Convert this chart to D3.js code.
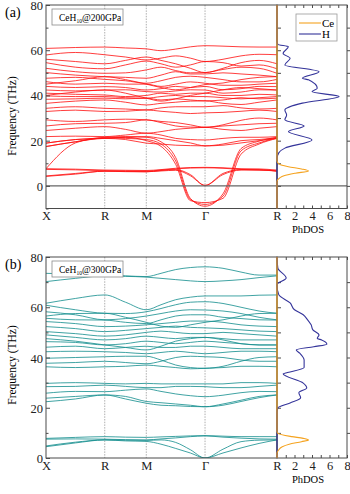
<!DOCTYPE html>
<html>
<head>
<meta charset="utf-8">
<script src="https://cdn.jsdelivr.net/npm/d3@7"></script>
<style>
  body { margin: 0; background: #fff; }
</style>
</head>
<body>
<div id="chart"></div>
<script>
// k-path X-R-M-Γ-R (simple cubic), distances in units of 2π/a
const kLabels = ["X", "R", "M", "Γ", "R"];
const kTicks = [0, 0.707, 1.207, 1.914, 2.780];
// k-points at which the band values below are read
const kPoints = [0, 0.354, 0.707, 0.957, 1.207, 1.384, 1.561, 1.737, 1.914, 2.130, 2.347, 2.564, 2.780];

const freqTicks = [0, 20, 40, 60, 80];
const dosTicks = [1, 2, 3, 4, 5, 6, 7, 8];

// CeH10 @ 200 GPa, frequencies in THz
const bands200 = [
  [60.8, 61.2, 61.4, 61.0, 60.6, 59.8, 60.5, 61.5, 62.0, 61.8, 61.5, 61.4, 61.4],
  [57.9, 59.0, 58.0, 57.0, 55.7, 56.5, 57.5, 56.5, 55.0, 56.0, 57.5, 58.2, 58.0],
  [56.0, 55.0, 54.0, 55.5, 57.0, 55.5, 54.0, 52.0, 50.1, 52.0, 54.5, 55.5, 54.0],
  [54.5, 52.5, 51.8, 53.5, 55.2, 54.0, 52.5, 53.5, 55.0, 54.5, 53.0, 53.5, 51.8],
  [52.0, 50.5, 49.8, 50.0, 51.3, 52.5, 51.0, 50.0, 50.1, 51.5, 52.5, 52.0, 49.8],
  [50.1, 49.0, 48.3, 48.0, 47.6, 49.0, 50.5, 49.5, 49.5, 50.0, 49.5, 49.0, 48.3],
  [47.6, 48.0, 47.1, 46.5, 45.4, 46.5, 48.0, 48.5, 48.0, 47.0, 46.0, 46.0, 47.1],
  [46.1, 45.0, 45.4, 45.0, 45.0, 44.0, 45.0, 46.0, 45.4, 44.5, 44.5, 45.0, 45.4],
  [45.0, 46.5, 48.3, 47.0, 45.0, 43.5, 42.5, 43.5, 44.8, 45.5, 47.0, 48.0, 48.3],
  [44.0, 43.5, 43.9, 43.5, 42.4, 43.0, 44.0, 43.5, 44.0, 42.5, 43.0, 44.0, 43.9],
  [42.4, 42.0, 42.4, 42.5, 41.7, 41.5, 42.0, 42.5, 42.4, 41.0, 41.5, 42.5, 42.4],
  [41.0, 40.5, 40.2, 39.5, 40.0, 41.0, 40.5, 41.0, 41.0, 40.0, 40.0, 40.5, 40.2],
  [40.0, 41.5, 42.4, 41.0, 38.8, 37.5, 38.5, 40.0, 41.0, 42.5, 43.5, 43.0, 42.4],
  [39.8, 39.5, 39.5, 39.0, 38.8, 39.5, 40.0, 39.5, 39.5, 39.0, 38.5, 39.0, 39.5],
  [38.3, 38.5, 38.8, 38.5, 38.8, 38.0, 38.5, 38.0, 37.6, 38.0, 39.0, 38.5, 38.8],
  [36.5, 37.5, 38.0, 37.0, 35.8, 36.5, 37.0, 37.5, 37.6, 36.5, 36.0, 37.0, 38.0],
  [34.3, 35.0, 34.3, 34.0, 33.6, 34.5, 35.0, 35.0, 35.0, 35.5, 34.5, 34.0, 34.3],
  [32.9, 33.5, 32.9, 33.0, 33.6, 33.0, 32.5, 32.0, 32.3, 32.5, 33.0, 33.5, 32.9],
  [29.2, 28.5, 29.2, 29.5, 29.2, 28.5, 28.0, 27.0, 25.9, 27.0, 29.0, 30.0, 29.2],
  [26.5, 27.5, 27.7, 28.0, 29.2, 28.0, 26.5, 26.0, 25.9, 26.5, 27.0, 27.5, 27.7],
  [24.5, 25.5, 26.2, 25.0, 23.3, 24.0, 25.0, 25.5, 25.9, 25.0, 24.5, 25.5, 26.2],
  [21.8, 22.0, 21.8, 22.5, 23.3, 22.5, 21.0, 20.5, 20.3, 21.0, 21.5, 21.5, 21.8],
  [18.9, 20.5, 21.2, 21.5, 21.8, 21.0, 20.0, 19.0, 17.7, 18.5, 20.0, 20.5, 21.2],
  [17.4, 19.5, 21.0, 20.5, 18.9, 18.5, 18.0, 17.8, 17.7, 18.0, 19.0, 20.0, 21.0],
  // soft modes, imaginary around Γ
  [7.6, 19.0, 21.5, 21.8, 21.5, 19.5, 12.5, -5.5, -9.0, -3.5, 16.5, 19.8, 21.5],
  [17.4, 19.5, 21.2, 21.0, 20.5, 18.5, 11.0, -6.0, -8.2, -4.5, 15.5, 19.0, 21.2],
  [18.9, 20.5, 21.0, 21.5, 20.0, 17.5, 9.5, -6.5, -7.4, -5.5, 14.0, 18.5, 21.0],
  // low Ce-like modes
  [7.6, 7.4, 7.0, 6.9, 6.8, 7.2, 7.8, 8.1, 8.2, 8.0, 7.6, 7.5, 7.0],
  [7.3, 7.1, 6.7, 6.6, 6.5, 7.0, 7.5, 7.9, 8.0, 7.8, 7.3, 7.0, 6.7],
  [4.2, 5.2, 6.5, 6.3, 6.2, 6.8, 7.2, 5.0, 0.2, 5.5, 7.2, 7.2, 6.5],
  [4.4, 5.5, 6.5, 6.4, 6.3, 6.6, 6.9, 4.5, 0.2, 5.0, 7.0, 7.0, 6.5]
];

// CeH10 @ 300 GPa
const bands300 = [
  [73.5, 73.2, 72.8, 72.5, 72.2, 73.5, 75.0, 75.8, 76.1, 75.5, 74.0, 72.8, 72.8],
  [70.2, 71.5, 72.5, 72.3, 72.0, 71.5, 71.0, 70.5, 70.2, 70.5, 71.0, 71.8, 72.5],
  [61.6, 63.5, 64.9, 62.0, 59.0, 61.0, 63.0, 64.0, 64.5, 64.5, 64.5, 64.8, 64.9],
  [60.8, 59.0, 57.6, 57.5, 58.2, 59.5, 61.0, 62.0, 62.2, 61.5, 60.0, 58.5, 57.6],
  [58.2, 57.0, 55.0, 55.5, 56.5, 57.5, 58.5, 59.0, 58.9, 58.5, 57.5, 56.0, 55.0],
  [56.5, 57.5, 57.6, 56.0, 54.0, 52.5, 52.0, 53.0, 54.0, 55.0, 56.5, 57.5, 57.6],
  [55.6, 55.0, 54.9, 54.0, 53.5, 55.0, 56.5, 57.0, 57.0, 56.0, 55.5, 55.0, 54.9],
  [54.3, 53.5, 52.3, 52.5, 53.0, 53.5, 54.0, 54.5, 54.5, 54.0, 53.0, 52.5, 52.3],
  [52.3, 51.5, 50.3, 50.8, 51.5, 52.0, 52.5, 52.0, 51.8, 51.5, 51.0, 50.5, 50.3],
  [50.3, 49.5, 48.5, 49.0, 50.0, 50.5, 50.0, 49.5, 49.5, 50.0, 49.5, 49.0, 48.5],
  [49.0, 48.0, 47.0, 47.5, 48.5, 48.0, 47.5, 48.0, 48.0, 47.5, 47.0, 47.0, 47.0],
  [47.5, 46.5, 45.0, 44.0, 43.0, 44.5, 46.5, 47.5, 48.0, 47.0, 45.5, 45.0, 45.0],
  [46.3, 46.0, 45.0, 45.5, 46.5, 46.0, 45.5, 46.0, 46.5, 46.0, 45.5, 45.0, 45.0],
  [44.1, 44.5, 43.5, 44.0, 44.5, 44.0, 44.0, 44.5, 44.5, 44.0, 43.5, 43.5, 43.5],
  [42.3, 42.5, 42.3, 42.0, 41.5, 42.0, 42.5, 42.0, 41.5, 42.0, 42.5, 42.5, 42.3],
  [39.7, 40.0, 40.3, 40.5, 40.5, 39.0, 37.0, 36.0, 35.7, 36.5, 38.5, 40.0, 40.3],
  [37.7, 38.0, 38.5, 38.0, 37.5, 38.5, 40.0, 40.5, 40.3, 40.0, 39.0, 38.5, 38.5],
  [36.3, 36.0, 36.3, 36.5, 37.0, 36.5, 36.0, 35.5, 35.7, 36.0, 36.5, 36.5, 36.3],
  [29.7, 30.0, 29.7, 29.5, 29.7, 29.5, 29.5, 29.5, 29.5, 29.5, 30.0, 30.0, 29.7],
  [28.4, 28.5, 29.0, 28.5, 28.0, 28.0, 28.5, 28.5, 28.4, 28.0, 28.0, 28.5, 29.0],
  [25.8, 26.5, 26.4, 27.0, 27.5, 26.5, 25.5, 24.8, 24.4, 25.0, 26.0, 26.5, 26.4],
  [23.8, 24.5, 25.1, 24.5, 22.5, 22.0, 21.5, 21.0, 20.4, 21.5, 23.0, 24.5, 25.1],
  [22.4, 23.5, 25.1, 23.5, 21.8, 21.0, 20.8, 20.5, 20.4, 21.0, 22.5, 24.0, 25.1],
  [7.8, 8.2, 8.5, 8.3, 8.2, 8.4, 8.6, 8.8, 8.9, 8.7, 8.5, 8.5, 8.5],
  [7.5, 7.6, 7.5, 7.3, 7.2, 7.6, 8.0, 8.5, 8.8, 8.3, 7.9, 7.6, 7.5],
  [4.5, 6.0, 7.2, 6.8, 6.6, 5.5, 3.8, 2.0, 0.0, 2.0, 4.0, 5.8, 7.2],
  [4.8, 6.3, 7.2, 7.1, 7.0, 7.2, 6.2, 3.3, 0.0, 3.5, 6.5, 7.1, 7.2]
];

// phonon DOS, pairs of [frequency THz, states]
const dosH200 = [[80, 0], [64, 0], [62.5, 0.1], [61.6, 1.3], [58.6, 0.7], [56.4, 1.5], [53.5, 0.9],
  [50.5, 4.8], [47.6, 2.9], [46.9, 3.6], [43.2, 4.6], [41.7, 4.0], [39.5, 7.1], [36.6, 2.9],
  [33.6, 0.9], [31.4, 1.1], [29.2, 0.9], [26.5, 3.1], [24.0, 1.3], [20.3, 4.0], [16.7, 0.9],
  [14.6, 0.2], [12, 0], [-10, 0]];
const dosCe200 = [[80, 0], [11, 0], [9.5, 0.3], [8.5, 1.3], [7.5, 2.8], [6.6, 3.6], [5.6, 2.1],
  [4.5, 0.8], [3.5, 0.3], [2, 0], [-10, 0]];
const dosH300 = [[80, 0], [75.6, 0.1], [71.6, 1.05], [69, 0], [65, 0.2], [61.7, 1.5], [59, 2.0],
  [57, 3.0], [55, 3.5], [53, 3.9], [51, 4.1], [49, 4.8], [47.6, 4.6], [47, 5.1], [45.3, 5.7],
  [44.3, 4.2], [43, 2.2], [41.7, 2.6], [39, 3.1], [36, 3.1], [34, 1.2], [33.5, 0.7], [29.8, 3.0],
  [27.9, 3.4], [26, 2.5], [24, 2.7], [21.9, 1.5], [20, 0.1], [18, 0], [0, 0]];
const dosCe300 = [[80, 0], [10.5, 0], [9.8, 0.1], [8.5, 1.7], [7.8, 3.0], [7.2, 3.6], [6.5, 2.8],
  [5.5, 1.4], [4.5, 0.6], [3, 0.15], [2, 0], [0, 0]];

// layout
const W = 350, H = 494;
const BAND_L = 46, BAND_R = 277, DOS_R = 347;
const AXIS_COLOR = "#4a4a4a";
const FONT = "'Liberation Serif', 'Times New Roman', serif";

const svg = d3.select("#chart").append("svg")
  .attr("width", W).attr("height", H)
  .style("font-family", FONT);

const kx = d3.scaleLinear().domain([0, kTicks[kTicks.length - 1]]).range([BAND_L, BAND_R]);
const dosX = d3.scaleLinear().domain([0, 8]).range([BAND_R, DOS_R]);

function styleAxis(g) {
  g.select(".domain").remove();
  g.attr("font-family", null).attr("font-size", 12.5).attr("color", AXIS_COLOR);
  g.selectAll("text").style("fill", "#222");
}

function drawPanel(p) {
  const y = d3.scaleLinear().domain(p.yDomain).range([p.bottom, p.top]);
  const g = svg.append("g");

  g.append("clipPath").attr("id", "clip" + p.tag)
    .append("rect")
    .attr("x", BAND_L).attr("y", p.top)
    .attr("width", BAND_R - BAND_L).attr("height", p.bottom - p.top);

  // high-symmetry lines
  g.selectAll(".kline").data(kTicks.slice(1, 4)).enter().append("line")
    .attr("x1", d => kx(d)).attr("x2", d => kx(d))
    .attr("y1", p.top).attr("y2", p.bottom)
    .attr("stroke", "#9a9a9a").attr("stroke-width", 0.8)
    .attr("stroke-dasharray", "1.5,1.2");

  // dispersion curves
  const line = d3.line()
    .x(d => kx(d[0])).y(d => y(d[1]))
    .curve(d3.curveMonotoneX);
  g.append("g").attr("clip-path", "url(#clip" + p.tag + ")")
    .selectAll("path").data(p.bands).enter().append("path")
    .attr("d", b => line(kPoints.map((k, i) => [k, b[i]])))
    .attr("fill", "none")
    .attr("stroke", p.color)
    .attr("stroke-width", 0.9)
    .attr("stroke-opacity", 0.9);

  // zero line
  if (p.yDomain[0] < 0) {
    g.append("line")
      .attr("x1", BAND_L).attr("x2", DOS_R)
      .attr("y1", y(0)).attr("y2", y(0))
      .attr("stroke", "#666").attr("stroke-width", 1.4);
  }

  // left frequency axis
  g.append("g").attr("transform", `translate(${BAND_L},0)`)
    .call(d3.axisLeft(y).tickValues(freqTicks).tickSizeInner(-4).tickSizeOuter(0).tickPadding(3))
    .call(styleAxis)
    .call(a => a.selectAll("text").attr("dy", "0.36em"));
  g.append("g").attr("transform", `translate(${BAND_L},0)`)
    .call(d3.axisLeft(y).tickValues(d3.range(p.yDomain[0], 81, 10).filter(v => v % 20 !== 0))
      .tickSizeInner(-2.5).tickSizeOuter(0).tickFormat(""))
    .call(styleAxis);

  // k-path labels
  g.append("g").attr("transform", `translate(0,${p.bottom})`)
    .call(d3.axisBottom(kx).tickValues(kTicks).tickFormat((d, i) => kLabels[i])
      .tickSize(0).tickPadding(3))
    .call(styleAxis);

  // PhDOS axes
  g.append("g").attr("transform", `translate(0,${p.bottom})`)
    .call(d3.axisBottom(dosX).tickValues(dosTicks).tickFormat(d => d % 2 === 0 ? d : "")
      .tickSizeInner(-3).tickSizeOuter(0).tickPadding(3))
    .call(styleAxis);
  g.append("g").attr("transform", `translate(0,${p.top})`)
    .call(d3.axisTop(dosX).tickValues(dosTicks).tickFormat("")
      .tickSizeInner(-3).tickSizeOuter(0))
    .call(styleAxis);
  const sideTicks = d3.range(p.yDomain[0] + 10, 80, 10);
  g.append("g").attr("transform", `translate(${BAND_R},0)`)
    .call(d3.axisRight(y).tickValues(sideTicks).tickFormat("").tickSizeInner(4).tickSizeOuter(0))
    .call(styleAxis);
  g.append("g").attr("transform", `translate(${DOS_R},0)`)
    .call(d3.axisLeft(y).tickValues(sideTicks).tickFormat("").tickSizeInner(-4).tickSizeOuter(0))
    .call(styleAxis);

  // frames
  g.append("rect")
    .attr("x", BAND_L).attr("y", p.top)
    .attr("width", BAND_R - BAND_L).attr("height", p.bottom - p.top)
    .attr("fill", "none").attr("stroke", AXIS_COLOR).attr("stroke-width", 1);
  g.append("rect")
    .attr("x", BAND_R).attr("y", p.top)
    .attr("width", DOS_R - BAND_R).attr("height", p.bottom - p.top)
    .attr("fill", "none").attr("stroke", AXIS_COLOR).attr("stroke-width", 1);

  // DOS curves
  const dosLine = d3.line()
    .x(d => dosX(d[1])).y(d => y(d[0]))
    .curve(d3.curveMonotoneY);
  g.append("path").attr("d", dosLine(p.dosH))
    .attr("fill", "none").attr("stroke", "#34349a").attr("stroke-width", 1.1);
  g.append("path").attr("d", dosLine(p.dosCe))
    .attr("fill", "none").attr("stroke", "#f5a31f").attr("stroke-width", 1.1);

  // labels
  g.append("text").attr("x", 5).attr("y", p.top + 12)
    .attr("font-size", 14).text("(" + p.tag + ")");
  g.append("text")
    .attr("transform", `translate(16,${p.labelY}) rotate(-90)`)
    .attr("text-anchor", "middle").attr("font-size", 11.5)
    .text("Frequency (THz)");
  g.append("text").attr("x", 308).attr("y", p.bottom + 24.5)
    .attr("text-anchor", "middle").attr("font-size", 10.5).text("PhDOS");

  // compound tag
  g.append("rect")
    .attr("x", 52).attr("y", p.top + 4).attr("width", 71).attr("height", 16)
    .attr("fill", "#fff").attr("stroke", "#8a8a8a").attr("stroke-width", 0.8);
  const t = g.append("text").attr("x", 59).attr("y", p.top + 15.5).attr("font-size", 9.5);
  t.append("tspan").text("CeH");
  t.append("tspan").attr("font-size", 5.5).attr("dy", 2).text("10");
  t.append("tspan").attr("dy", -2).text("@" + p.pressure);
}

const panels = [
  {tag: "a", top: 5, bottom: 208.5, yDomain: [-10, 80], bands: bands200, color: "#ff1010",
    dosH: dosH200, dosCe: dosCe200, pressure: "200GPa", labelY: 116},
  {tag: "b", top: 257, bottom: 458, yDomain: [0, 80], bands: bands300, color: "#138d8d",
    dosH: dosH300, dosCe: dosCe300, pressure: "300GPa", labelY: 365}
];
panels.forEach(drawPanel);

// legend (panel a)
const legendItems = [{name: "Ce", color: "#f5a31f"}, {name: "H", color: "#34349a"}];
const legend = svg.append("g").attr("transform", "translate(296,14)");
legend.append("rect").attr("width", 41).attr("height", 27)
  .attr("fill", "#fff").attr("stroke", "#999").attr("stroke-width", 0.8);
legend.selectAll(".li").data(legendItems).enter().append("g")
  .attr("transform", (d, i) => `translate(0,${9 + i * 11})`)
  .each(function (d) {
    const li = d3.select(this);
    li.append("line").attr("x1", 3).attr("x2", 25).attr("stroke", d.color).attr("stroke-width", 1.1);
    li.append("text").attr("x", 26).attr("y", 3.5).attr("font-size", 11).text(d.name);
  });

// serif everywhere, axis defaults included
svg.selectAll("text").style("font-family", FONT);
</script>
</body>
</html>
